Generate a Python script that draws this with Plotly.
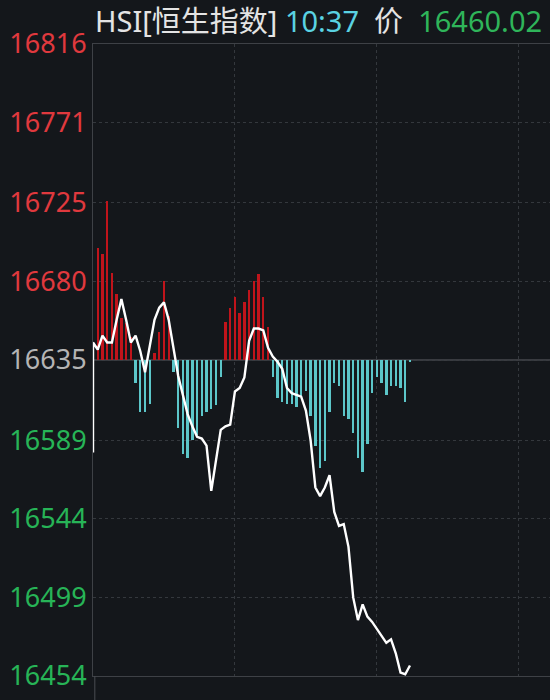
import plotly.graph_objects as go

# ---- data ----
prev_close = 16635
tick_vals = [16816, 16771, 16725, 16680, 16635, 16589, 16544, 16499, 16454]
tick_text = ["16816", "16771", "16725", "16680", "16635", "16589", "16544", "16499", "16454"]

# minutes after 09:30 ; first point is the opening tick at 09:30
line_minutes = [0, 0, 1, 2, 3, 4, 5, 6, 7, 8, 9, 10, 11, 12, 13, 14, 15, 16, 17, 18, 19, 20,
                21, 22, 23, 24, 25, 26, 27, 28, 29, 30, 31, 32, 33, 34, 35, 36, 37, 38, 39, 40,
                41, 42, 43, 44, 45, 46, 47, 48, 49, 50, 51, 52, 53, 54, 55, 56, 57, 58, 59, 60,
                61, 62, 63, 64, 65, 66, 67]
price = [16582, 16645, 16641, 16649, 16645, 16645, 16658, 16670, 16658, 16645, 16649, 16640,
         16628, 16642, 16658, 16665, 16668, 16658, 16642, 16626, 16615, 16604, 16597, 16591,
         16590, 16586, 16560, 16577, 16595, 16597, 16598, 16617, 16619, 16625, 16646, 16653,
         16653, 16652, 16642, 16637, 16634, 16630, 16619, 16616, 16615, 16614, 16606, 16589,
         16562, 16557, 16562, 16569, 16548, 16540, 16541, 16528, 16499, 16486, 16495, 16488,
         16485, 16481, 16477, 16473, 16475, 16467, 16456, 16455, 16460.02]

bar_minutes = list(range(1, 68))
bar_vals = [64, 61, 91, 50, 38, 24, 21, 13, -13, -30, -30, -25, 4, 16, 45, 25,
            -7, -39, -54, -56, -46, -43, -32, -30, -28, -26, -10,
            22, 30, 36, 27, 33, 40, 45, 49, 36, 19,
            -10, -22, -24, -25, -25, -27, -21, -18, -32, -49,
            -62, -58, -30, -13, -15, -32, -34, -42, -56, -64,
            -48, -19, -10, -13, -20, -15, -15, -16, -24, -1]

grid_minutes = [30, 60, 90]
x_max = 96.6

title_name = "HSI[恒生指数]"
title_time = "10:37"
title_label = "价"
title_price = "16460.02"

# ---- styles ----
BG = "#14171b"
RED = "#c0141b"
CYAN = "#5cc6c9"
LBL_RED = "#e0393e"
LBL_GREEN = "#27b457"
LBL_GRAY = "#b4b4b4"
GRID = "#34383d"

def lbl_color(v):
    if v > prev_close:
        return LBL_RED
    if v < prev_close:
        return LBL_GREEN
    return LBL_GRAY

colored_ticks = [f"<span style='color:{lbl_color(v)}'>{t}</span>" for v, t in zip(tick_vals, tick_text)]

fig = go.Figure()
fig.add_trace(go.Bar(
    x=bar_minutes, y=bar_vals, base=prev_close,
    marker=dict(color=[RED if v >= 0 else CYAN for v in bar_vals], line=dict(width=0)),
    width=0.5, hoverinfo="skip", showlegend=False,
))
fig.add_trace(go.Scatter(
    x=line_minutes, y=price, mode="lines",
    line=dict(color="#ffffff", width=2.4), showlegend=False, hoverinfo="skip",
))

fig.add_shape(type="line", xref="paper", x0=0, x1=1, yref="y", y0=prev_close, y1=prev_close,
              line=dict(color="#5e6166", width=1.2), layer="below")
fig.add_shape(type="line", xref="paper", x0=0.004, x1=0.004, yref="paper", y0=-0.04, y1=0,
              line=dict(color="#4a4d52", width=1))

fig.add_annotation(
    xref="paper", yref="paper", x=0, y=1, xanchor="left", yanchor="bottom",
    xshift=0, yshift=2, showarrow=False,
    text=(f"<span style='color:#e4e4e4'>{title_name} </span>"
          f"<span style='color:#5ad2e2'>{title_time}</span>"
          f"<span style='color:#e4e4e4'>  {title_label}  </span>"
          f"<span style='color:#2fb55a'>{title_price}</span>"),
    font=dict(size=29, family="Noto Sans, Noto Sans CJK SC, sans-serif"),
)

fig.update_layout(
    width=550, height=700,
    margin=dict(l=93, r=0, t=44, b=24, autoexpand=False),
    paper_bgcolor=BG, plot_bgcolor=BG,
    bargap=0, barmode="overlay",
    xaxis=dict(range=[0, x_max], showticklabels=False, tickvals=grid_minutes,
               showgrid=True, gridcolor=GRID, griddash="dot", gridwidth=1, automargin=False,
               zeroline=False, showline=True, mirror=True, linecolor="#3e4146", linewidth=1),
    yaxis=dict(range=[tick_vals[-1], tick_vals[0]], tickvals=tick_vals, ticktext=colored_ticks,
               showgrid=True, gridcolor=GRID, griddash="dot", gridwidth=1, automargin=False,
               zeroline=False, showline=True, linecolor="#3e4146", linewidth=1,
               ticks="", ticklabelstandoff=0,
               tickfont=dict(size=27, family="Noto Sans, sans-serif")),
)

fig.write_html("out.html", full_html=True, config={"displayModeBar": False},
               post_script="document.body.style.margin='0';document.body.style.overflow='hidden';")
